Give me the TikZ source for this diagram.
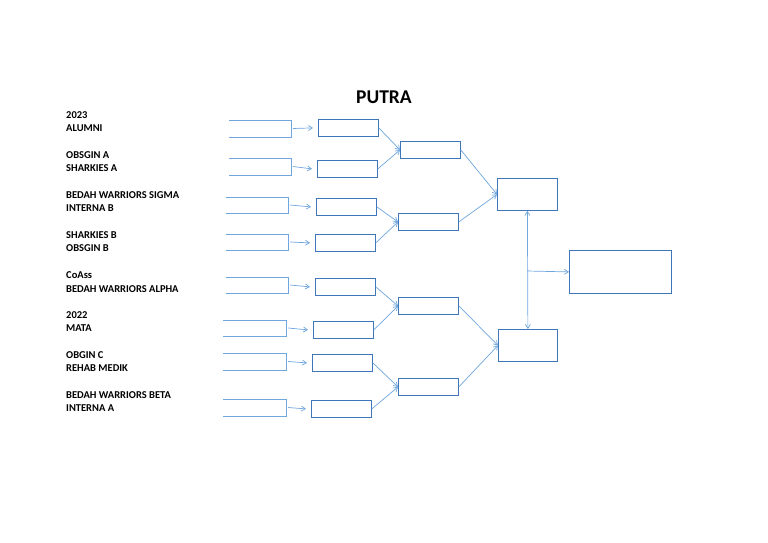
\documentclass[tikz,border=0pt]{standalone}
\usepackage{fontspec}
\setmainfont{Carlito}
\usetikzlibrary{arrows.meta}
\definecolor{bx}{HTML}{3F76BA}
\definecolor{ln}{HTML}{6FA6DE}
\begin{document}
\begin{tikzpicture}[x=1pt,y=-1pt,
  bbox/.style={draw=bx,line width=0.8pt},
  br/.style={draw=ln,line width=0.9pt},
  ar/.style={draw=ln,line width=0.7pt,-{Straight Barb[length=4pt,width=5pt]}},
  lab/.style={anchor=west,font=\bfseries\fontsize{10.5}{13.5}\selectfont,align=left,inner sep=0pt}]
\useasboundingbox (0,0) rectangle (768,543);
\node[font=\bfseries\fontsize{19.5}{22}\selectfont] (title) at (384,97) {PUTRA};
% labels
\foreach \y/\a/\b [count=\i] in {121.5/2023/ALUMNI,161.5/OBSGIN A/SHARKIES A,201.5/BEDAH WARRIORS SIGMA/INTERNA B,241.5/SHARKIES B/OBSGIN B,282/CoAss/BEDAH WARRIORS ALPHA,321.5/2022/MATA,361.5/OBGIN C/REHAB MEDIK,401.5/BEDAH WARRIORS BETA/INTERNA A}
  \node[lab] (l\i) at (66,\y) {\a\\\b};
% brackets and first round boxes
\foreach \xl/\xr/\yt/\yb/\bl/\bt [count=\i] in {
 229/291/120/137/318/119, 229/291/158/175/317/160, 226/288/197/213/316/198, 226/288/234/250/315/234,
 226/288/277/293/315/278, 223/286/320/336/313/321, 223/286/353/370/312/354, 223/286/399/416/311/400}{
  \draw[br] (\xl,\yt) -- (\xr,\yt) -- (\xr,\yb) -- (\xl,\yb);
  \coordinate (c\i) at (\xr,{(\yt+\yb)/2});
  \node[bbox,minimum width=60pt,minimum height=17pt,anchor=north west,inner sep=0pt] (r\i) at (\bl,\bt) {};
  \draw[ar] (c\i) ++(2,0) -- ([xshift=-5pt]r\i.west);
}
\foreach \n/\x/\y in {A/400/141,B/398/213,C/398/297,D/398/378}
  \node[bbox,minimum width=60pt,minimum height=17pt,anchor=north west,inner sep=0pt] (\n) at (\x,\y) {};
\node[bbox,minimum width=60pt,minimum height=32pt,anchor=north west,inner sep=0pt] (E) at (497,178) {};
\node[bbox,minimum width=59pt,minimum height=32pt,anchor=north west,inner sep=0pt] (F) at (498,329) {};
\node[bbox,minimum width=102pt,minimum height=43pt,anchor=north west,inner sep=0pt] (G) at (569,250) {};
\draw[ar] (r1.east) -- (A.west); \draw[ar] (r2.east) -- (A.west);
\draw[ar] (r3.east) -- (B.west); \draw[ar] (r4.east) -- (B.west);
\draw[ar] (r5.east) -- (C.west); \draw[ar] (r6.east) -- (C.west);
\draw[ar] (r7.east) -- (D.west); \draw[ar] (r8.east) -- (D.west);
\draw[ar] (A.east) -- (E.west); \draw[ar] (B.east) -- (E.west);
\draw[ar] (C.east) -- (F.west); \draw[ar] (D.east) -- (F.west);
\draw[ar,{Straight Barb[length=4pt,width=5pt]}-{Straight Barb[length=4pt,width=5pt]}] (E.south) -- (F.north);
\coordinate (m) at (527,271);
\draw[ar] (m) -- (G.west);
\end{tikzpicture}
\end{document}
